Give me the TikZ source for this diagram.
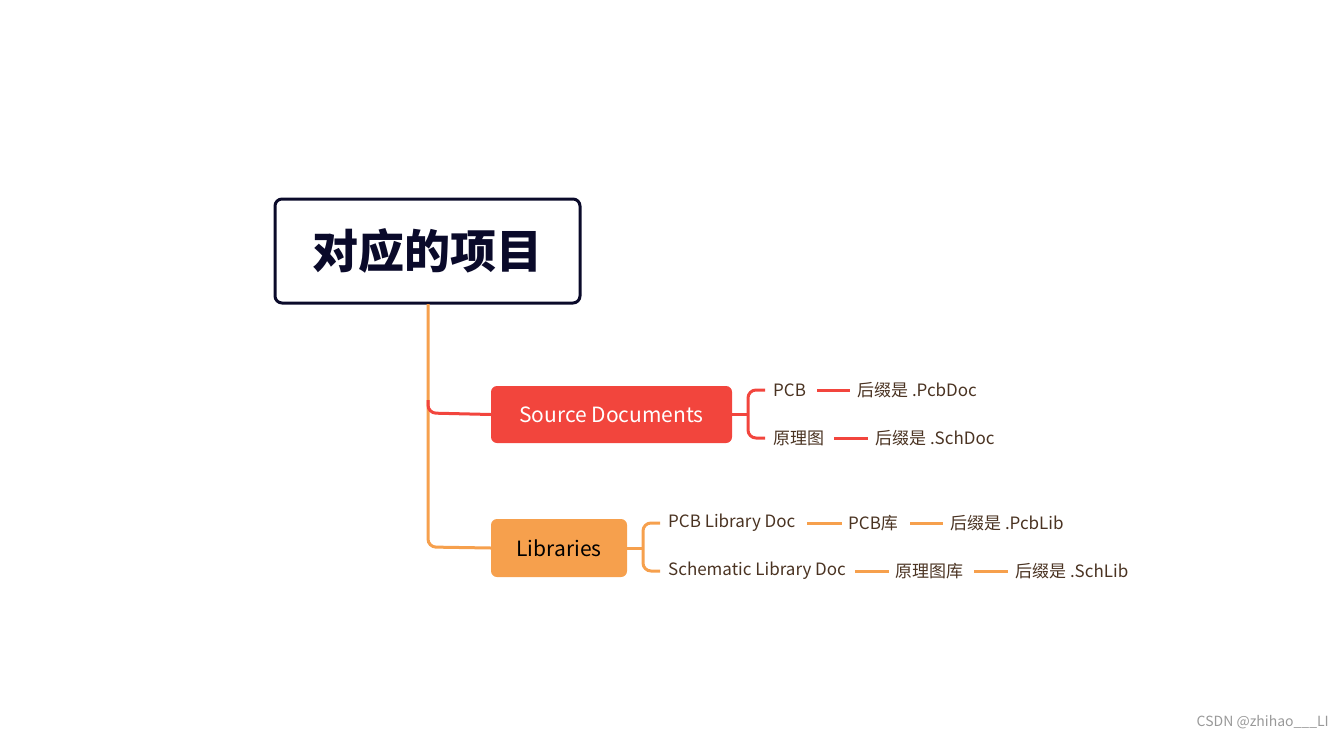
\documentclass[tikz,border=0pt]{standalone}
\usepackage{fontspec}
\setmainfont{Noto Sans CJK SC}
\definecolor{red1}{HTML}{F2453D}
\definecolor{ora}{HTML}{F6A04D}
\definecolor{txt}{HTML}{4A3322}
\definecolor{navy}{HTML}{0A0A2A}
\begin{document}
\begin{tikzpicture}[x=1pt,y=-1pt,
  leaf/.style={anchor=west,inner sep=0pt,text=txt,font=\fontsize{17}{19}\selectfont},
  rl/.style={red1,line width=3pt},
  ol/.style={ora,line width=3pt}]
\useasboundingbox (0,0) rectangle (1343,741);
\node[draw=navy,line width=3pt,rounded corners=7pt,minimum width=305pt,minimum height=104pt,text=navy,font=\fontsize{46}{50}\selectfont\bfseries] (root) at (427.5,251) {对应的项目};
\node[fill=red1,rounded corners=6pt,minimum width=241pt,minimum height=57pt,text=white,font=\fontsize{21}{24}\selectfont] (src) at (611.5,414.5) {Source Documents};
\node[fill=ora,rounded corners=6pt,minimum width=136pt,minimum height=58pt,text=black,font=\fontsize{21}{24}\selectfont] (lib) at (559,548) {Libraries};
\coordinate (t) at (428,304);
\draw[ol,rounded corners=8pt] (t) -- (428,547) -- (lib.west);
\draw[rl,rounded corners=8pt] (428,400) -- (428,413) -- (src.west);
\node[leaf] (pcb) at (773,390) {PCB};
\node[leaf] (pcbs) at (857,390) {后缀是 .PcbDoc};
\node[leaf] (sch) at (773,438) {原理图};
\node[leaf] (schs) at (875,438) {后缀是 .SchDoc};
\draw[rl] (src.east) -- (748,414.5);
\draw[rl,rounded corners=8pt] (765,390) -- (748,390) -- (748,438) -- (765,438);
\draw[rl] (817,390) -- (850,390);
\draw[rl] (834,438) -- (868,438);
\node[leaf] (a1) at (668,523) {PCB Library Doc};
\node[leaf] (a2) at (848,523) {PCB库};
\node[leaf] (a3) at (950,523) {后缀是 .PcbLib};
\node[leaf] (b1) at (668,571) {Schematic Library Doc};
\node[leaf] (b2) at (895,571) {原理图库};
\node[leaf] (b3) at (1015,571) {后缀是 .SchLib};
\draw[ol] (lib.east) -- (643,548);
\draw[ol,rounded corners=8pt] (660,523) -- (643,523) -- (643,571) -- (660,571);
\draw[ol] (807,523) -- ([xshift=-6pt]a2.west);
\draw[ol] (910,523) -- ([xshift=-7pt]a3.west);
\draw[ol] (855,571) -- ([xshift=-6pt]b2.west);
\draw[ol] (974,571) -- ([xshift=-7pt]b3.west);
\node[anchor=east,inner sep=0pt,text=gray!80,font=\fontsize{14}{16}\selectfont] (wm) at (1329,722) {CSDN @zhihao\_\_\_LI};
\end{tikzpicture}
\end{document}
